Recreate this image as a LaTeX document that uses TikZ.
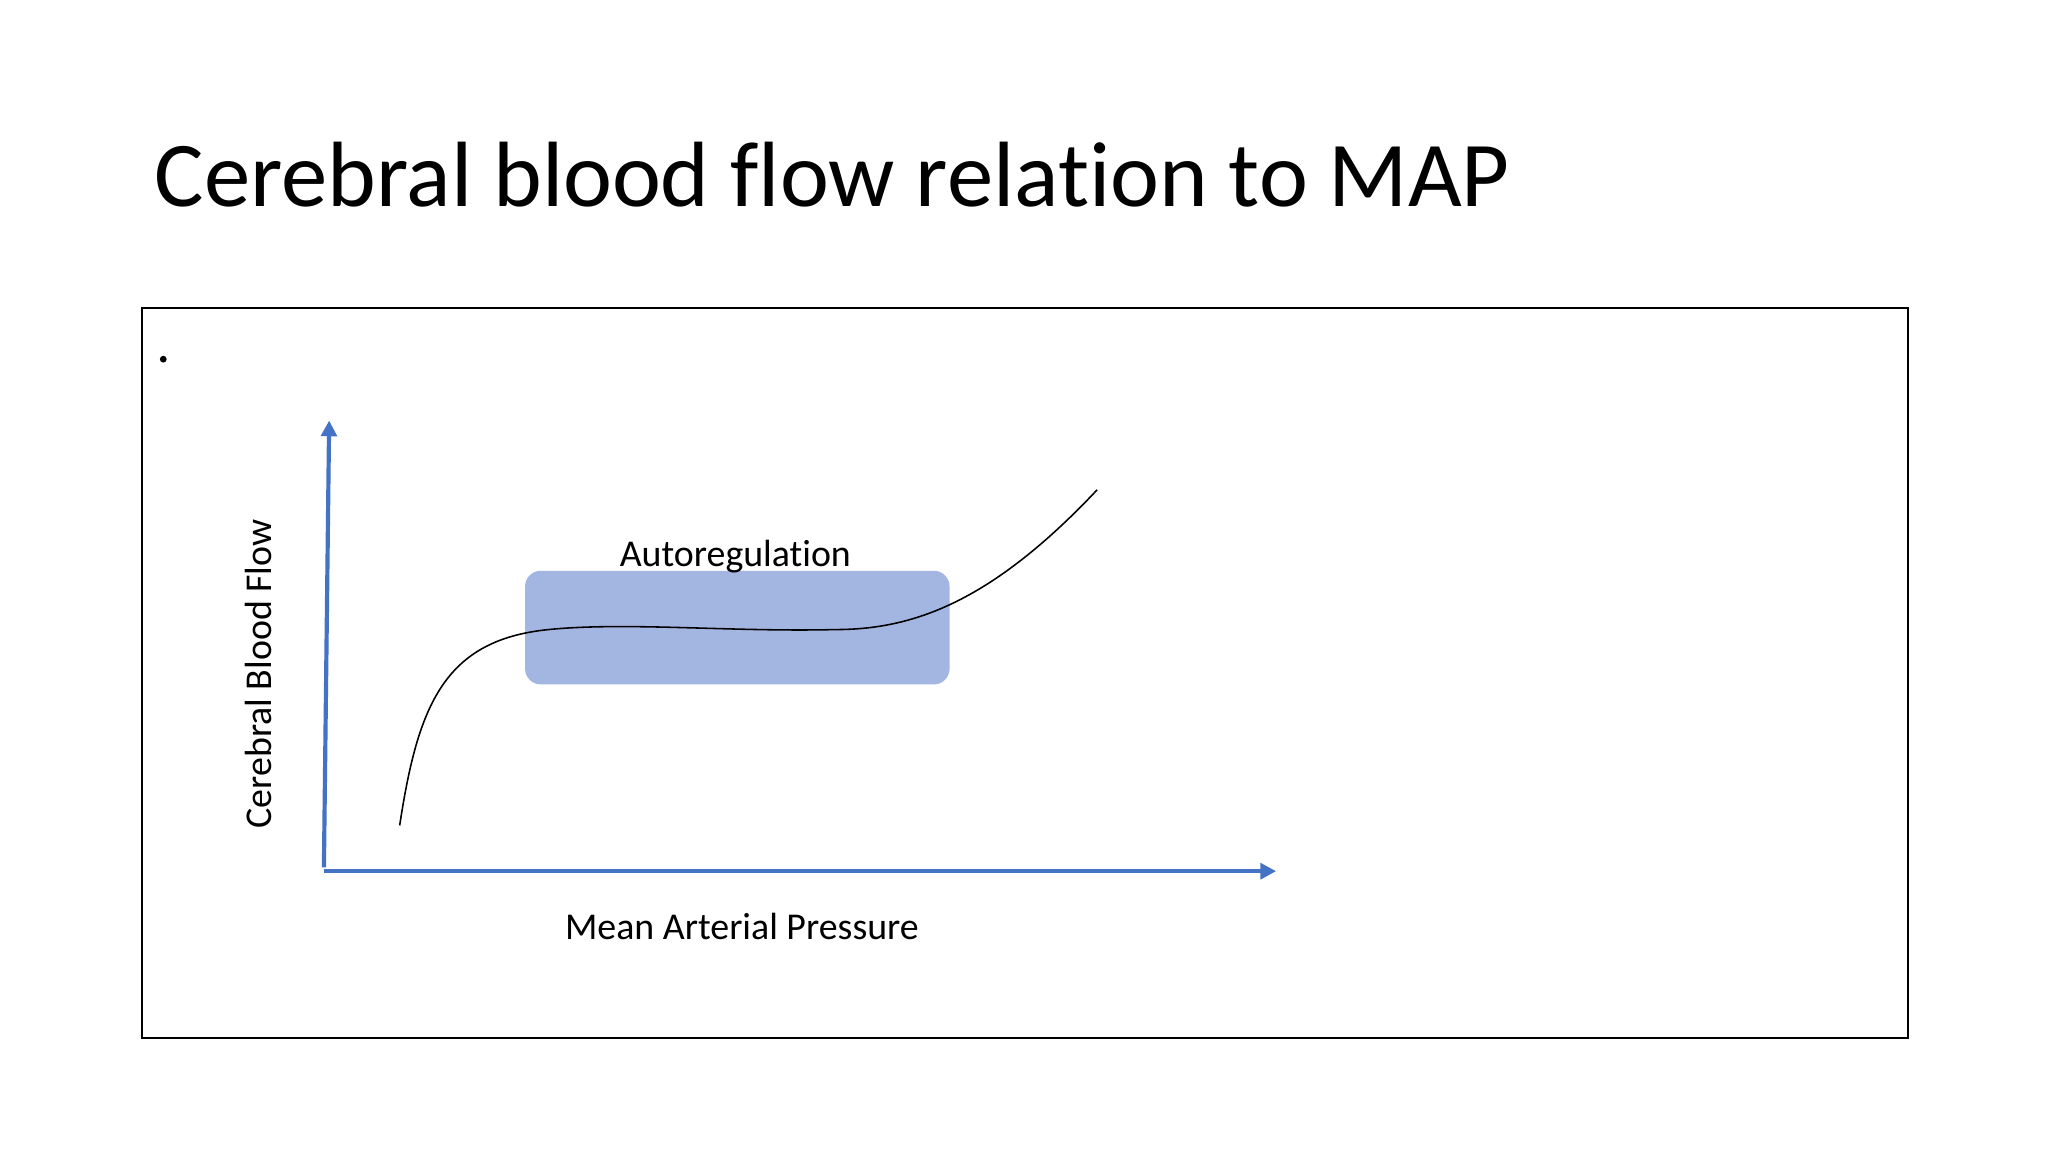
\documentclass[tikz,border=0pt]{standalone}
\usepackage{fontspec}
\setmainfont[Ligatures=NoCommon]{Carlito}
\usetikzlibrary{arrows.meta}
\definecolor{axblue}{HTML}{4472C4}
\definecolor{boxblue}{HTML}{A3B6E2}
\begin{document}
\begin{tikzpicture}[x=0.5pt,y=-0.5pt,
  axis/.style={draw=axblue,line width=1.6pt,-{Triangle[length=6pt,width=6pt]}},
  lbl/.style={inner sep=0pt,font=\fontsize{14.5}{16}\selectfont}]
\useasboundingbox[fill=white] (0,0) rectangle (1568,882);
\node[anchor=base west,inner sep=0pt,font=\fontsize{35.5}{40}\selectfont] (title) at (118,158) {Cerebral blood flow relation to MAP};
\node[draw,line width=0.7pt,minimum width=676pt,minimum height=279.5pt,anchor=north west,inner sep=0pt] (frame) at (108,235) {};
\fill (125,275) circle (1.3pt) coordinate (dot);
\node[fill=boxblue,rounded corners=6pt,minimum width=162.5pt,minimum height=43.5pt,inner sep=0pt] (box) at (564.5,480.5) {};
\node[lbl] (auto) at (563,426) {Autoregulation};
\coordinate (o) at (248,664);
\coordinate (ytop) at (252,322);
\coordinate (xend) at (977,667);
\draw[axis] (o) -- (ytop);
\draw[axis] (248,667) -- (xend);
\node[lbl,rotate=90] (ylab) at (198,516) {Cerebral Blood Flow};
\node[lbl] (xlab) at (568,709) {Mean Arterial Pressure};
\coordinate (c0) at (306,632);
\coordinate (c1) at (420,482);
\coordinate (c2) at (640,482);
\coordinate (c3) at (840,375);
\draw[line width=0.6pt] (c0) .. controls (320,540) and (340,490) .. (c1)
  .. controls (480,476) and (560,484) .. (c2)
  .. controls (700,482) and (760,460) .. (c3);
\end{tikzpicture}
\end{document}
